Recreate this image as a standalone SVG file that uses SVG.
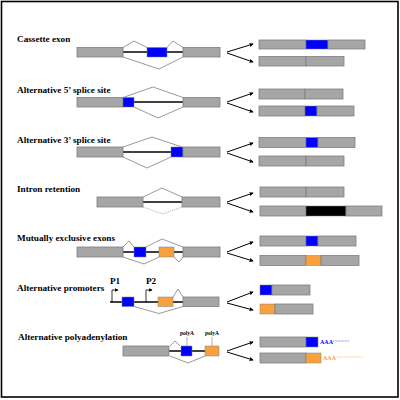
<svg xmlns="http://www.w3.org/2000/svg" width="400" height="400" viewBox="0 0 400 400">
<defs>
<marker id="ah" viewBox="0 0 6 6" refX="5" refY="3" markerWidth="4" markerHeight="4" orient="auto" markerUnits="userSpaceOnUse"><path d="M0,0 L6,3 L0,6 z" fill="#000"/></marker>
<marker id="ps" viewBox="0 0 6 6" refX="5" refY="3" markerWidth="3.5" markerHeight="3.5" orient="auto" markerUnits="userSpaceOnUse"><path d="M0,0 L6,3 L0,6 z" fill="#000"/></marker>
</defs>
<style>
.t{font-family:"Liberation Serif","Times New Roman",serif;font-weight:bold;font-size:9.2px;fill:#000}
.g{fill:#a6a6a6;stroke:#7f7f7f;stroke-width:0.8}
.b{fill:#0000ff;stroke:#7f7f7f;stroke-width:0.5}
.o{fill:#f9a03f;stroke:#7f7f7f;stroke-width:0.5}
.k{fill:#000;stroke:#7f7f7f;stroke-width:0.5}
.i{stroke:#000;stroke-width:1.3;fill:none}
.c{stroke:#808080;stroke-width:0.8;fill:none}
.d{stroke:#a0a0a0;stroke-width:0.8;fill:none;stroke-dasharray:1.2,1}
.a{stroke:#000;stroke-width:1;fill:none;marker-end:url(#ah)}
.p{font-family:"Liberation Serif","Times New Roman",serif;font-weight:bold;font-size:5.5px;fill:#000}
</style>
<rect x="0" y="0" width="400" height="400" fill="#fff"/>
<rect x="1.5" y="1.5" width="396.5" height="395.5" fill="none" stroke="#000" stroke-width="1.6"/>

<g id="cassette">
<text class="t" x="17" y="42">Cassette exon</text>
<line class="i" x1="123" y1="52" x2="183" y2="52"/>
<rect class="g" x="77" y="47.5" width="46" height="9.5"/>
<rect class="b" x="147" y="47.5" width="20" height="9.5"/>
<rect class="g" x="183" y="47.5" width="37" height="9.5"/>
<polyline class="c" points="123,47.5 134,41 147,47.5"/>
<polyline class="c" points="167,47.5 173,41 183,47.5"/>
<polyline class="c" points="123,57 159,69 183,57"/>
<rect class="g" x="259" y="40" width="47" height="9"/>
<rect class="b" x="306" y="40" width="22" height="9"/>
<rect class="g" x="328" y="40" width="37" height="9"/>
<rect class="g" x="259" y="56.5" width="47" height="9.5"/>
<rect class="g" x="306" y="56.5" width="38" height="9.5"/>
</g>

<g id="alt5">
<text class="t" x="17" y="93">Alternative 5’ splice site</text>
<line class="i" x1="134" y1="102" x2="183" y2="102"/>
<rect class="g" x="77" y="97.5" width="46" height="9.5"/>
<rect class="b" x="123" y="97.5" width="11" height="9.5"/>
<rect class="g" x="183" y="97.5" width="37" height="9.5"/>
<polyline class="c" points="123,97.5 153,87 183,97.5"/>
<polyline class="c" points="134,107 158,118 183,107"/>
<rect class="g" x="259" y="89" width="46" height="10"/>
<rect class="g" x="305" y="89" width="38" height="10"/>
<rect class="g" x="259" y="106" width="46" height="10"/>
<rect class="b" x="305" y="106" width="12" height="10"/>
<rect class="g" x="317" y="106" width="37" height="10"/>
</g>

<g id="alt3">
<text class="t" x="17" y="143">Alternative 3’ splice site</text>
<line class="i" x1="123" y1="152" x2="171" y2="152"/>
<rect class="g" x="77" y="147" width="46" height="10"/>
<rect class="b" x="171" y="147" width="12" height="10"/>
<rect class="g" x="183" y="147" width="37" height="10"/>
<polyline class="c" points="123,147 152,137 182,147"/>
<polyline class="c" points="123,157 147,168 171,157"/>
<rect class="g" x="259" y="137.5" width="47" height="10"/>
<rect class="b" x="306" y="137.5" width="12" height="10"/>
<rect class="g" x="318" y="137.5" width="37" height="10"/>
<rect class="g" x="259" y="156" width="47" height="10"/>
<rect class="g" x="306" y="156" width="38" height="10"/>
</g>

<g id="intron">
<text class="t" x="17" y="192">Intron retention</text>
<line class="i" x1="143" y1="202" x2="182" y2="202"/>
<rect class="g" x="97" y="197" width="46" height="10"/>
<rect class="g" x="182" y="197" width="38" height="10"/>
<polyline class="c" points="143,197 162,188 182,197"/>
<polyline class="d" points="143,207 163,214 182,207"/>
<rect class="g" x="260" y="187" width="46" height="10"/>
<rect class="g" x="306" y="187" width="38" height="10"/>
<rect class="g" x="260" y="206" width="46" height="10"/>
<rect class="k" x="306" y="206" width="40" height="10"/>
<rect class="g" x="346" y="206" width="36" height="10"/>
</g>

<g id="mutex">
<text class="t" x="17" y="241">Mutually exclusive exons</text>
<line class="i" x1="123" y1="252" x2="183" y2="252"/>
<rect class="g" x="77" y="247" width="46" height="10"/>
<rect class="b" x="134" y="247" width="12" height="10"/>
<rect class="o" x="159" y="247" width="15" height="10"/>
<rect class="g" x="183" y="247" width="37" height="10"/>
<polyline class="c" points="123,247 129,241 134,247"/>
<polyline class="c" points="146,247 162,239 183,247"/>
<polyline class="c" points="123,257 144,264 159,257"/>
<polyline class="c" points="174,257 179,262 183,257"/>
<rect class="g" x="260" y="236" width="46" height="10"/>
<rect class="b" x="306" y="236" width="12" height="10"/>
<rect class="g" x="318" y="236" width="38" height="10"/>
<rect class="g" x="260" y="255.5" width="46" height="10"/>
<rect class="o" x="306" y="255.5" width="15" height="10"/>
<rect class="g" x="321" y="255.5" width="38" height="10"/>
</g>

<g id="promoters">
<text class="t" x="17" y="291">Alternative promoters</text>
<text class="t" x="110" y="284">P1</text>
<text class="t" x="146" y="284">P2</text>
<line class="i" x1="110" y1="302" x2="183" y2="302"/>
<polyline points="112,302 112,290 118,290" fill="none" stroke="#000" stroke-width="0.8" marker-end="url(#ps)"/>
<polyline points="146,302 146,290 152,290" fill="none" stroke="#000" stroke-width="0.8" marker-end="url(#ps)"/>
<rect class="b" x="122" y="297" width="12" height="9.5"/>
<rect class="o" x="158" y="297" width="15" height="9.5"/>
<rect class="g" x="183" y="297" width="36" height="9.5"/>
<polyline class="c" points="173,297 178,289 183,297"/>
<polyline class="c" points="134,306.5 159,313.5 183,306.5"/>
<rect class="b" x="260" y="285" width="12" height="10"/>
<rect class="g" x="272" y="285" width="38" height="10"/>
<rect class="o" x="260" y="304" width="15" height="10"/>
<rect class="g" x="275" y="304" width="38" height="10"/>
</g>

<g id="polya">
<text class="t" x="18" y="340">Alternative polyadenylation</text>
<text class="p" x="187" y="335" text-anchor="middle">polyA</text>
<text class="p" x="212" y="335" text-anchor="middle">polyA</text>
<line x1="187" y1="337" x2="187" y2="346" stroke="#a0a0a0" stroke-width="0.8"/>
<line x1="212" y1="337" x2="212" y2="346" stroke="#a0a0a0" stroke-width="0.8"/>
<line class="i" x1="169" y1="351" x2="205" y2="351"/>
<rect class="g" x="123" y="346" width="46" height="10"/>
<rect class="b" x="181" y="346" width="11" height="10"/>
<rect class="o" x="205" y="346" width="14" height="10"/>
<polyline class="c" points="170,346 175,341 180,346"/>
<polyline class="c" points="170,356 188,363 205,356"/>
<rect class="g" x="260" y="337" width="46" height="10"/>
<rect class="b" x="306" y="337" width="12" height="10"/>
<text x="320" y="344" font-family="Liberation Serif,serif" font-weight="bold" font-size="6px" fill="#0000ff">AAA</text>
<line x1="333" y1="341" x2="349" y2="341" stroke="#6666ff" stroke-width="0.7" stroke-dasharray="1,0.5"/>
<rect class="g" x="260" y="353" width="46" height="10"/>
<rect class="o" x="306" y="353" width="15" height="10"/>
<text x="323" y="360" font-family="Liberation Serif,serif" font-weight="bold" font-size="6px" fill="#f9a03f">AAA</text>
<line x1="337" y1="357" x2="363" y2="357" stroke="#f9a03f" stroke-width="0.7" stroke-dasharray="1,0.7"/>
</g>

<g id="connectors">
<polyline class="a" points="227,52 253,44"/><polyline class="a" points="227,53 253,62"/>
<polyline class="a" points="227,102 253,93"/><polyline class="a" points="227,103 253,112"/>
<polyline class="a" points="227,152 253,143"/><polyline class="a" points="227,153 253,162"/>
<polyline class="a" points="227,202 253,193"/><polyline class="a" points="227,203 253,212"/>
<polyline class="a" points="227,252 253,242"/><polyline class="a" points="227,253 253,261"/>
<polyline class="a" points="227,302 253,292"/><polyline class="a" points="227,303 253,310"/>
<polyline class="a" points="227,351 253,342"/><polyline class="a" points="227,352 253,360"/>
</g>
</svg>
